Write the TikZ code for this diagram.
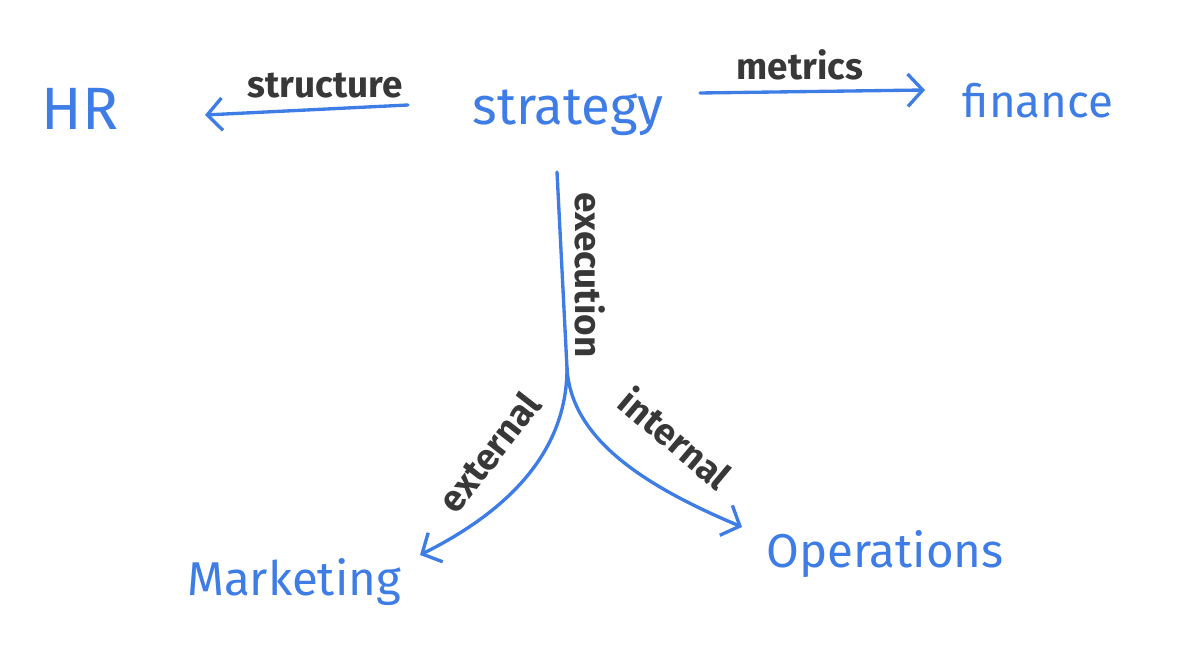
\documentclass[tikz,border=0pt]{standalone}
\usepackage{fontspec}
\setmainfont{Fira Sans}
\usepackage{xcolor}
\usetikzlibrary{arrows.meta}
\definecolor{pen}{HTML}{3E7CE6}
\definecolor{ink}{HTML}{383838}

\begin{document}
\begin{tikzpicture}[x=0.02cm,y=-0.02cm,
	word/.style={text=pen, anchor=base, inner sep=0pt, font=\fontsize{27}{30}\selectfont},
	lbl/.style={text=ink, inner sep=0pt, font=\bfseries\fontsize{21}{23}\selectfont},
	stroke/.style={draw=pen, line width=1.9pt, line cap=round, line join=round},
	arr/.style={stroke, -{Straight Barb[length=3mm,width=6.5mm]}}]
		\useasboundingbox (0,0) rectangle (1200,648);
		
		\node [word, font=\fontsize{30}{32}\selectfont] (strategy) at (568,125) {strategy};
		\node [word, font=\fontsize{34}{36}\selectfont] (HR) at (80,130) {HR};
		\node [word, font=\fontsize{26}{28}\selectfont] (finance) at (1038,118) {finance};
		\node [word] (marketing) at (294,595) {Marketing};
		\node [word] (operations) at (885,567) {Operations};
		
		\draw [arr] ([shift={(-160,-20)}]strategy.base) -- ([shift={(125,-15)}]HR.base);
		\node [lbl] (structure) at (325,86) {structure};
		\draw [arr] ([shift={(132,-32)}]strategy.base) -- ([shift={(-113,-28)}]finance.base);
		\node [lbl] (metrics) at (800,65) {metrics};
		
		\coordinate (fork) at (567,368);
		\draw [stroke] ([shift={(-11,47)}]strategy.base) -- (fork);
		\node [lbl, rotate=-90] (execution) at (590,275) {execution};
		
		\draw [arr] (fork) .. controls +(0,75) and +(100,-50) .. ([shift={(126,-40)}]marketing.base);
		\node [lbl, rotate=52] (external) at (489,452) {external};
		\draw [arr] (fork) .. controls +(4,70) and +(-100,-42) .. ([shift={(-143,-40)}]operations.base);
		\node [lbl, rotate=-40] (internal) at (676,438) {internal};
		%\draw [pen, dashed] (fork) -- (567,450);
		
\end{tikzpicture}
\end{document}
